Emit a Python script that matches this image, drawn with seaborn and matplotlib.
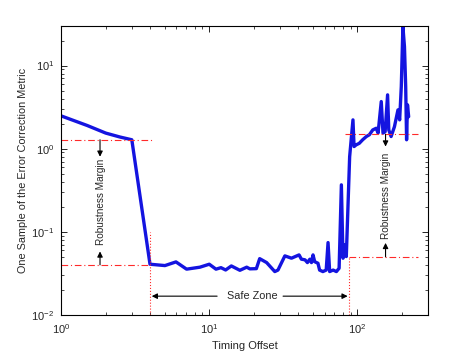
import matplotlib
matplotlib.use("Agg")
import matplotlib.pyplot as plt
import seaborn as sns
import pandas as pd
import numpy as np

# ---- data ----
timing_offset = [1.0, 1.5, 2.0, 2.5, 3.0, 3.98, 5.02, 5.96, 7.03, 8.65, 10.0, 11.1, 12.0, 12.9,
                 14.1, 16.1, 17.9, 18.8, 20.8, 21.9, 24.4, 27.7, 29.1, 32.4, 35.9, 40.4, 41.9,
                 44.3, 46.0, 47.8, 49.0, 50.2, 51.5, 54.2, 55.6, 58.5, 61.6, 63.4, 65.0, 68.6,
                 72.2, 75.3, 78.0, 80.0, 82.2, 84.2, 88.7, 93.4, 95.0, 98.0, 103.0, 108.6, 115.0,
                 120.5, 127.0, 134.0, 138.0, 145.0, 149.0, 154.0, 160.0, 163.0, 169.0, 178.0,
                 188.0, 193.0, 198.0, 203.0, 208.0, 212.0, 215.0, 218.0, 222.0]
metric = [2.48, 1.9, 1.54, 1.38, 1.28, 0.0407, 0.0392, 0.0434, 0.0355, 0.0375, 0.0407, 0.0355,
          0.037, 0.0347, 0.0388, 0.0344, 0.0375, 0.0358, 0.036, 0.0475, 0.0426, 0.0332, 0.0346,
          0.0513, 0.0481, 0.0527, 0.0468, 0.046, 0.0426, 0.0468, 0.0426, 0.0527, 0.0437, 0.0418,
          0.0346, 0.0332, 0.0346, 0.0741, 0.0332, 0.0346, 0.0332, 0.0364, 0.367, 0.048, 0.0695,
          0.0503, 0.8, 2.22, 1.06, 1.11, 1.16, 1.28, 1.40, 1.47, 1.68, 1.76, 1.54, 3.69, 1.54,
          1.6, 4.44, 1.68, 1.40, 1.84, 2.93, 2.22, 5.6, 29.5, 16.9, 5.6, 1.28, 3.37, 2.43]

left_margin_hi = 1.28
left_margin_lo = 0.040
right_margin_hi = 1.49
right_margin_lo = 0.050
safe_zone_start = 4.0
safe_zone_end = 88.0

df = pd.DataFrame({"Timing Offset": timing_offset, "Metric": metric})

sns.set_theme(style="ticks")
plt.rcParams["font.family"] = ["Liberation Sans", "DejaVu Sans"]
plt.rcParams["mathtext.fontset"] = "custom"
plt.rcParams["mathtext.rm"] = "Liberation Sans"
plt.rcParams["mathtext.it"] = "Liberation Sans:italic"
plt.rcParams["mathtext.bf"] = "Liberation Sans:bold"

fig = plt.figure(figsize=(4.74, 3.55), dpi=100)
ax = fig.add_axes([0.129, 0.113, 0.774, 0.814])

sns.lineplot(data=df, x="Timing Offset", y="Metric", sort=False, estimator=None,
             color="#1414e0", linewidth=2.4, ax=ax)

ax.set_xscale("log")
ax.set_yscale("log")
ax.set_xlim(1, 300)
ax.set_ylim(0.01, 30)

red = "#ff2a2a"
dd = (0, (6, 2.5, 1, 2.5))
# robustness margin lines
ax.plot([1, 4.1], [left_margin_hi, left_margin_hi], color=red, ls=dd, lw=0.8)
ax.plot([1, safe_zone_start], [left_margin_lo, left_margin_lo], color=red, ls=dd, lw=0.8)
ax.plot([83, 255], [right_margin_hi, right_margin_hi], color=red, ls=dd, lw=0.8)
ax.plot([safe_zone_end, 258], [right_margin_lo, right_margin_lo], color=red, ls=dd, lw=0.8)
ax.plot([safe_zone_start, safe_zone_start], [0.01, 0.1], color=red, ls=":", lw=0.8)
ax.plot([safe_zone_end, safe_zone_end], [0.01, right_margin_lo], color=red, ls=":", lw=0.8)

arrow_kw = dict(arrowstyle="-|>", color="black", lw=0.8, mutation_scale=8, shrinkA=0, shrinkB=0)

# left robustness margin
ax.text(1.85, 0.232, "Robustness Margin", rotation=90, ha="center", va="center", fontsize=7.2)
ax.annotate("", xy=(1.83, 0.80), xytext=(1.83, left_margin_hi), arrowprops=arrow_kw)
ax.annotate("", xy=(1.83, 0.058), xytext=(1.83, left_margin_lo), arrowprops=arrow_kw)

# right robustness margin
ax.text(156, 0.27, "Robustness Margin", rotation=90, ha="center", va="center", fontsize=7.2)
ax.annotate("", xy=(155, 1.06), xytext=(155, right_margin_hi), arrowprops=arrow_kw)
ax.annotate("", xy=(155, 0.0735), xytext=(155, right_margin_lo), arrowprops=arrow_kw)

# safe zone
ax.text(19.5, 0.0168, "Safe Zone", ha="center", va="center", fontsize=7.8)
ax.annotate("", xy=(4.09, 0.0168), xytext=(11.3, 0.0168), arrowprops=arrow_kw)
ax.annotate("", xy=(86, 0.0168), xytext=(31.5, 0.0168), arrowprops=arrow_kw)

ax.set_xlabel("Timing Offset", fontsize=8, labelpad=4)
ax.set_ylabel("One Sample of the Error Correction Metric", fontsize=7.8, labelpad=2)

for s in ax.spines.values():
    s.set_visible(True)
    s.set_color("black")
    s.set_linewidth(0.8)

ax.tick_params(which="both", direction="in", top=True, right=True, labelsize=8, color="black")
ax.tick_params(which="major", length=4, width=0.6, pad=5)
ax.tick_params(which="minor", length=2.2, width=0.5)
ax.xaxis.set_major_locator(matplotlib.ticker.LogLocator(base=10, numticks=10))
ax.xaxis.set_minor_locator(matplotlib.ticker.LogLocator(base=10, subs=np.arange(2, 10), numticks=20))
ax.yaxis.set_major_locator(matplotlib.ticker.LogLocator(base=10, numticks=10))
ax.yaxis.set_minor_locator(matplotlib.ticker.LogLocator(base=10, subs=np.arange(2, 10), numticks=20))
ax.xaxis.set_minor_formatter(matplotlib.ticker.NullFormatter())
ax.yaxis.set_minor_formatter(matplotlib.ticker.NullFormatter())

fig.savefig("out.png", dpi=100, facecolor="white")
